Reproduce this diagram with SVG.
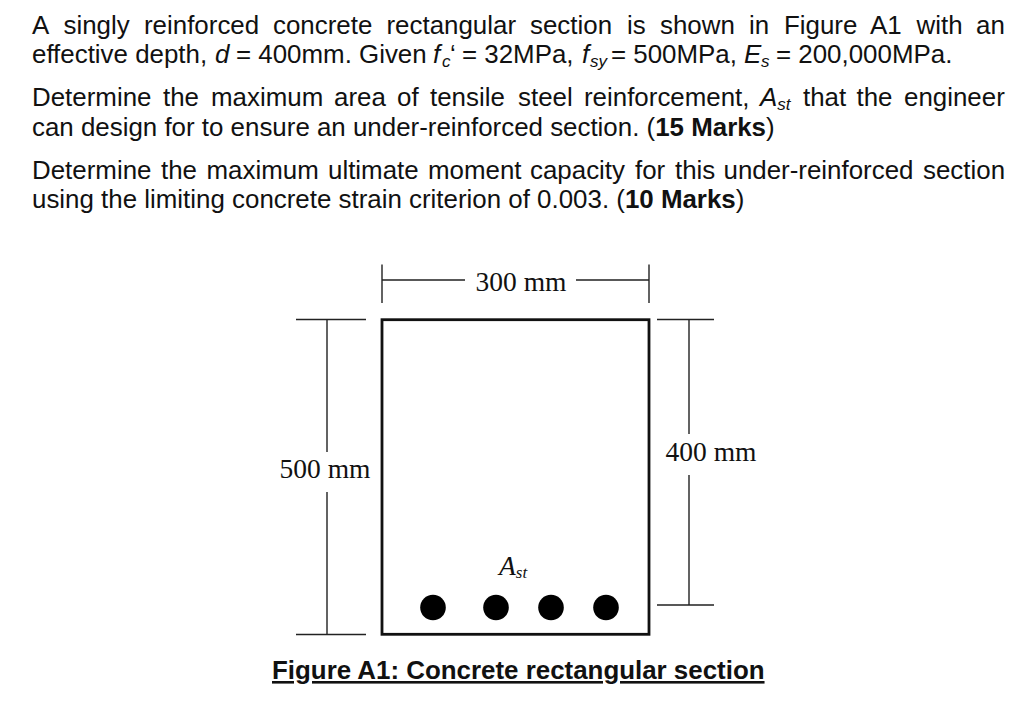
<svg xmlns="http://www.w3.org/2000/svg" width="1024" height="708" viewBox="0 0 1024 708">
<style>
.t{font-family:"Liberation Sans",Arial,sans-serif;font-size:25.9px;fill:#111}
.i{font-style:italic}
.s{font-size:17px;font-style:italic}
.b{font-weight:bold}
.d{font-family:"Liberation Serif","Times New Roman",serif;font-size:27.5px;fill:#111}
.l{stroke:#222;stroke-width:1.4;fill:none}
.r{stroke:#111;stroke-width:2.8;fill:none}
.u{text-decoration:underline;text-decoration-skip-ink:none}
</style>
<rect width="1024" height="708" fill="#fff"/>
<g id="question">
<text class="t" y="34"><tspan x="32">A</tspan><tspan x="63.5">singly</tspan><tspan x="144">reinforced</tspan><tspan x="273">concrete</tspan><tspan x="386.5">rectangular</tspan><tspan x="530">section</tspan><tspan x="627">is</tspan><tspan x="660">shown</tspan><tspan x="749">in</tspan><tspan x="784">Figure</tspan><tspan x="870">A1</tspan><tspan x="916.5">with</tspan><tspan x="976">an</tspan></text>
<text class="t" y="63"><tspan x="32">effective depth,</tspan><tspan x="215" class="i">d</tspan><tspan x="236">= 400mm. Given</tspan><tspan x="433" class="i">f</tspan><tspan class="s" x="442" dy="4">c</tspan><tspan x="450" dy="-4">‘</tspan><tspan x="462">= 32MPa,</tspan><tspan x="582" class="i">f</tspan><tspan class="s" x="590" dy="4">sy</tspan><tspan x="611" dy="-4">= 500MPa,</tspan><tspan x="744" class="i">E</tspan><tspan class="s" x="761" dy="4">s</tspan><tspan x="776" dy="-4">= 200,000MPa.</tspan></text>
<text class="t" y="106"><tspan x="32">Determine</tspan><tspan x="163">the</tspan><tspan x="211">maximum</tspan><tspan x="334">area</tspan><tspan x="397">of</tspan><tspan x="430">tensile</tspan><tspan x="518">steel</tspan><tspan x="584">reinforcement,</tspan><tspan x="760" class="i">A</tspan><tspan class="s" dy="4">st</tspan><tspan x="803" dy="-4">that</tspan><tspan x="856.5">the</tspan><tspan x="904">engineer</tspan></text>
<text class="t" y="136" x="32">can design for to ensure an under-reinforced section. (<tspan class="b">15 Marks</tspan>)</text>
<text class="t" y="179"><tspan x="32">Determine</tspan><tspan x="161">the</tspan><tspan x="206.5">maximum</tspan><tspan x="328">ultimate</tspan><tspan x="428">moment</tspan><tspan x="530">capacity</tspan><tspan x="635">for</tspan><tspan x="675">this</tspan><tspan x="723.5">under-reinforced</tspan><tspan x="923">section</tspan></text>
<text class="t" y="208" x="32">using the limiting concrete strain criterion of 0.003. (<tspan class="b">10 Marks</tspan>)</text>
</g>
<g id="connectors">
<path class="l" d="M382 264.5V303M649 264.5V303M382 280H465M576 280H649"/>
<path class="l" d="M296 319.5H366M296 634.5H366M327 319.5V452M327 492V634.5"/>
<path class="l" d="M657 319.5H714M657 605H714M689 319.5V434M689 475V605"/>
</g>
<g id="section"><rect class="r" x="382" y="319.7" width="267" height="314.6"/></g>
<g id="bars" fill="#000">
<circle cx="433" cy="607.5" r="12.8"/><circle cx="496" cy="607.5" r="12.8"/><circle cx="551" cy="607.5" r="12.8"/><circle cx="606" cy="607.5" r="12.8"/>
</g>
<g id="labels">
<text class="d" x="521" y="291" text-anchor="middle">300 mm</text>
<text class="d" x="325" y="478" text-anchor="middle">500 mm</text>
<text class="d" x="711" y="461" text-anchor="middle">400 mm</text>
<text class="d i" x="499" y="575" font-size="27">A<tspan font-size="17" dy="3">st</tspan></text>
</g>
<g id="caption">
<text class="t b u" x="272" y="679">Figure A1: Concrete rectangular section</text>
</g>
</svg>
